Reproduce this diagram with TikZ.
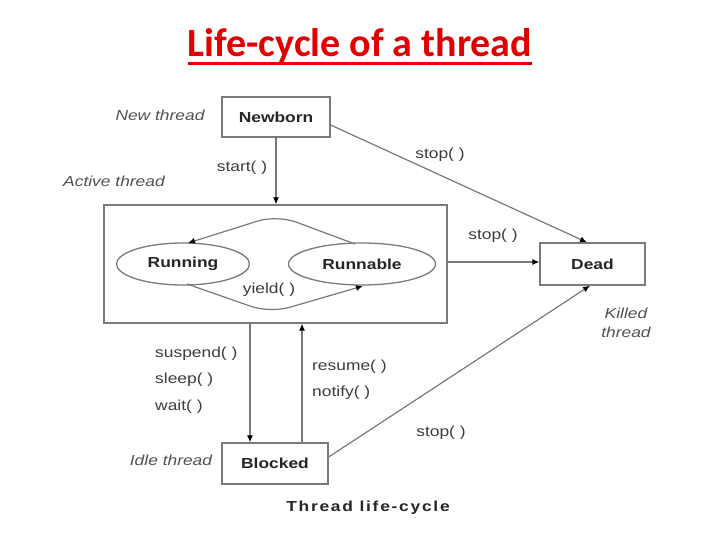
\documentclass[tikz,border=0pt]{standalone}
\usepackage{fontspec}
\setmainfont{Liberation Sans}
\newfontfamily\diag[FakeStretch=1.2]{Liberation Sans}
\newfontfamily\diagsp[FakeStretch=1.2,LetterSpace=12]{Liberation Sans}
\newfontfamily\titlefont{Carlito}
\usetikzlibrary{arrows.meta,shapes.geometric}
\definecolor{linegray}{HTML}{7A7A7A}
\definecolor{txt}{HTML}{262626}
\definecolor{titlered}{HTML}{E00000}
\tikzset{
  statebox/.style={draw=linegray, line width=1.3pt, fill=white, inner sep=0pt,
    font=\diag\bfseries\fontsize{14.5}{16}\selectfont, text=txt},
  stateell/.style={ellipse, draw=linegray, line width=1.3pt, inner sep=0pt,
    minimum height=42pt, font=\diag\bfseries\fontsize{14.5}{16}\selectfont, text=txt},
  lbl/.style={font=\diag\fontsize{14.5}{16}\selectfont, text=txt!90, inner sep=0pt},
  ital/.style={font=\diag\itshape\fontsize{14.5}{16}\selectfont, text=txt!80, inner sep=0pt},
  conn/.style={draw=linegray, line width=1.2pt, -{Latex[length=7pt,width=6pt,color=black]}},
}
\begin{document}
\begin{tikzpicture}[x=1pt,y=-1pt]
\useasboundingbox (0,0) rectangle (720,540);
% title
\node[font=\titlefont\bfseries\fontsize{40}{44}\selectfont, text=titlered, anchor=base, inner sep=0pt] (title) at (360,57) {Life-cycle of a thread};
\draw[titlered, line width=2.5pt] (title.west |- 0,63.5) -- (title.east |- 0,63.5);
% states
\node[statebox, minimum width=108pt, minimum height=40pt] (newborn) at (276,117) {Newborn};
\node[statebox, minimum width=343pt, minimum height=118pt] (active) at (275.5,264) {};
\node[stateell, minimum width=133pt] (running) at (183,264) {Running};
\node[stateell, minimum width=147pt] (runnable) at (362,264) {Runnable};
\node[statebox, minimum width=105pt, minimum height=42pt] (dead) at (592.5,264) {Dead};
\node[statebox, minimum width=106pt, minimum height=41pt] (blocked) at (275,463.5) {Blocked};
% side labels
\node[ital] (newthread) at (160,115) {New thread};
\node[ital] (activethread) at (114,181) {Active thread};
\node[ital, align=center] (killed) at (626,323) {Killed\\[3pt]thread};
\node[ital] (idle) at (171,460) {Idle thread};
% connectors
\draw[conn] (newborn.south) -- (active.north -| newborn.south);
\node[lbl] (start) at (242,168) {start( )};
\draw[conn] (newborn.east |- 0,125) -- (dead.north -| 587,0);
\node[lbl] (stop1) at (440,155) {stop( )};
\draw[conn] (active.east |- 0,262) -- (dead.west |- 0,262);
\node[lbl] (stop2) at (493,236) {stop( )};
\coordinate (rnbtop) at (355,244);
\coordinate (rungtop) at (188,243);
\draw[conn, rounded corners=20pt] (rnbtop) -- (277,215) -- (rungtop);
\coordinate (rungbot) at (187,284);
\coordinate (rnbbot) at (363,286);
\draw[conn, rounded corners=20pt] (rungbot) -- (270,313) -- (rnbbot);
\node[lbl] (yield) at (269,290) {yield( )};
\draw[conn] (250,323) -- (blocked.north -| 250,0);
\draw[conn] (blocked.north -| 302,0) -- (active.south -| 302,0);
\node[lbl, anchor=west] (suspend) at (155,354) {suspend( )};
\node[lbl, anchor=west] (sleep) at (155,380) {sleep( )};
\node[lbl, anchor=west] (wait) at (155,407) {wait( )};
\node[lbl, anchor=west] (resume) at (312,367) {resume( )};
\node[lbl, anchor=west] (notify) at (312,393) {notify( )};
\draw[conn] (blocked.east |- 0,457) -- (dead.south -| 590,0);
\node[lbl] (stop3) at (441,433) {stop( )};
\node[font=\diagsp\bfseries\fontsize{14.5}{16}\selectfont, text=txt, inner sep=0pt] (caption) at (368,508) {Thread life-cycle};
\end{tikzpicture}
\end{document}
